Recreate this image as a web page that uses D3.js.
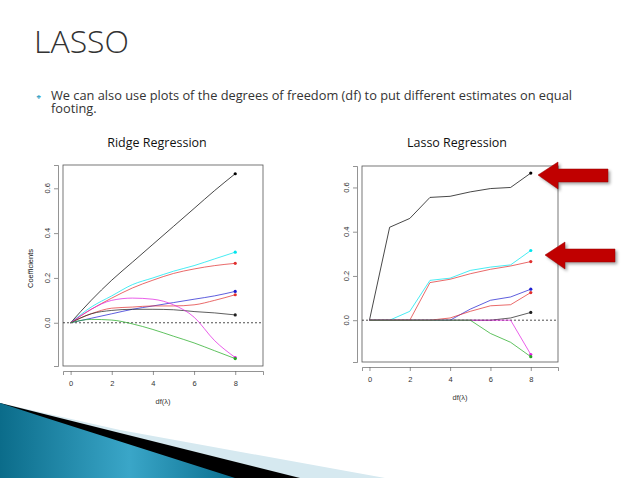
<!DOCTYPE html>
<html><head><meta charset="utf-8">
<script src="https://cdn.jsdelivr.net/npm/d3@7"></script>
<style>body{margin:0;background:#fff}svg{display:block}</style>
</head><body>
<div id="chart"></div>
<script>
// df grid shared by both panels
var dfSteps = [0,1,2,3,4,5,6,7,8];
var seriesColors = ["#000000","#00e5ee","#e0302f","#1f1fd0","#e0302f","#202020","#e020e0","#22aa22"];

// ridge coefficient paths
var ridgeBlack   = [0,0.10,0.19,0.27,0.35,0.43,0.51,0.59,0.665];
var ridgeCyan    = [0,0.07,0.12,0.17,0.20,0.23,0.255,0.285,0.315];
var ridgeRed     = [0,0.06,0.11,0.155,0.19,0.22,0.24,0.255,0.265];
var ridgeBlue    = [0,0.02,0.04,0.06,0.075,0.09,0.105,0.12,0.14];
var ridgeRed2    = [0,0.04,0.065,0.07,0.075,0.075,0.08,0.10,0.125];
var ridgeBlack2  = [0,0.04,0.055,0.06,0.06,0.058,0.05,0.044,0.035];
var ridgeMagenta = [0,0.06,0.10,0.11,0.105,0.08,0.025,-0.08,-0.155];
var ridgeGreen   = [0,0.015,0.012,-0.005,-0.03,-0.06,-0.09,-0.125,-0.16];

// lasso coefficient paths
var lassoBlack   = [0,0.42,0.46,0.555,0.56,0.58,0.595,0.60,0.665];
var lassoCyan    = [0,0,0.04,0.18,0.19,0.225,0.24,0.25,0.315];
var lassoRed     = [0,0,0,0.17,0.185,0.21,0.23,0.245,0.265];
var lassoBlue    = [0,0,0,0,0,0.05,0.09,0.105,0.14];
var lassoRed2    = [0,0,0,0,0.01,0.04,0.065,0.07,0.125];
var lassoBlack2  = [0,0,0,0,0,0,0,0.01,0.035];
var lassoMagenta = [0,0,0,0,0,0,0,0,-0.155];
var lassoGreen   = [0,0,0,0,0,0,-0.06,-0.10,-0.165];

var xTicks = [0,2,4,6,8], yTicks = [0,0.2,0.4,0.6];

var svg = d3.select("#chart").append("svg").attr("width",638).attr("height",478);

// slide decoration, bottom-left swoosh
var defs = svg.append("defs");
var g1 = defs.append("linearGradient").attr("id","teal").attr("x1","0").attr("x2","1").attr("y1","0").attr("y2","0");
g1.append("stop").attr("offset","0%").attr("stop-color","#0b6c8a");
g1.append("stop").attr("offset","55%").attr("stop-color","#3aa6c8");
g1.append("stop").attr("offset","100%").attr("stop-color","#0a6f8f");
svg.append("path").attr("d","M0,403 L120,430 L385,478 L0,478Z").attr("fill","#d6e9f0");
svg.append("path").attr("d","M0,403 L60,418 L300,478 L0,478Z").attr("fill","#000");
svg.append("path").attr("d","M0,403 L40,416 L235,478 L0,478Z").attr("fill","url(#teal)");

// header text
svg.append("text").attr("x",34).attr("y",53).text("LASSO")
  .style("font-family","'Open Sans',sans-serif").style("font-weight",300).style("font-size","32px").style("fill","#333");
svg.append("text").attr("x",36).attr("y",99).text("\u2756")
  .style("font-size","6px").style("fill","#3aa6c8");
var bullet = svg.append("text").style("font-family","'Open Sans',sans-serif").style("font-size","12.8px").style("fill","#333");
bullet.append("tspan").attr("x",51).attr("y",100).text("We can also use plots of the degrees of freedom (df) to put different estimates on equal");
bullet.append("tspan").attr("x",51).attr("y",113).text("footing.");
svg.append("text").attr("x",157).attr("y",147).attr("text-anchor","middle").text("Ridge Regression")
  .style("font-family","'Open Sans',sans-serif").style("font-size","12.5px").style("fill","#111");
svg.append("text").attr("x",457).attr("y",147).attr("text-anchor","middle").text("Lasso Regression")
  .style("font-family","'Open Sans',sans-serif").style("font-size","12.5px").style("fill","#111");

function panel(box, xDom, yDom, series, curved, yLabel){
  var x = d3.scaleLinear().domain(xDom).range([box.x0, box.x1]);
  var y = d3.scaleLinear().domain(yDom).range([box.y1, box.y0]);
  var g = svg.append("g").style("font-family","'Liberation Sans',Arial,sans-serif").style("font-size","7.5px");
  g.append("rect").attr("x",box.x0).attr("y",box.y0).attr("width",box.x1-box.x0).attr("height",box.y1-box.y0)
    .attr("fill","none").attr("stroke","#555").attr("stroke-width",0.8);
  g.append("line").attr("x1",box.x0).attr("x2",box.x1).attr("y1",y(0)).attr("y2",y(0))
    .attr("stroke","#222").attr("stroke-width",0.8).attr("stroke-dasharray","2,2");
  var ax = g.append("g").attr("transform","translate(0,"+(box.y1+5)+")")
    .call(d3.axisBottom(x).tickValues(xTicks).tickSize(4).tickPadding(6));
  var ay = g.append("g").attr("transform","translate("+(box.x0-5)+",0)")
    .call(d3.axisLeft(y).tickValues(yTicks).tickFormat("").tickSize(4));
  [ax,ay].forEach(function(a){
    a.selectAll("path,line").attr("stroke","#666").attr("stroke-width",0.7);
    a.selectAll("text").attr("fill","#333").style("font-size","7.5px");
  });
  // rotated y tick labels, R style
  yTicks.forEach(function(t){
    g.append("text").attr("transform","translate("+(box.x0-13)+","+y(t)+") rotate(-90)")
      .attr("text-anchor","middle").attr("fill","#333").text(d3.format(".1f")(t));
  });
  g.append("text").attr("x",(box.x0+box.x1)/2).attr("y",box.y1+38).attr("text-anchor","middle").text("df(\u03bb)").attr("fill","#333");
  if (yLabel) g.append("text").attr("transform","translate("+(box.x0-30)+","+((box.y0+box.y1)/2+3)+") rotate(-90)")
    .attr("text-anchor","middle").text(yLabel).attr("fill","#111");
  var line = d3.line().x(function(d,i){return x(dfSteps[i]);}).y(function(d){return y(d);})
    .curve(curved ? d3.curveMonotoneX : d3.curveLinear);
  series.forEach(function(s,k){
    g.append("path").attr("d",line(s)).attr("fill","none").attr("stroke",seriesColors[k])
      .attr("stroke-width",0.9).attr("opacity",0.8);
    g.append("circle").attr("cx",x(8)).attr("cy",y(s[8])).attr("r",1.6).attr("fill",seriesColors[k]);
  });
}

panel({x0:63,x1:263,y0:165,y1:366},[-0.37,9.35],[-0.193,0.704],
  [ridgeBlack,ridgeCyan,ridgeRed,ridgeBlue,ridgeRed2,ridgeBlack2,ridgeMagenta,ridgeGreen], true, "Coefficients");
panel({x0:362,x1:558,y0:166,y1:362},[-0.37,9.35],[-0.189,0.697],
  [lassoBlack,lassoCyan,lassoRed,lassoBlue,lassoRed2,lassoBlack2,lassoMagenta,lassoGreen], false, null);

// red callout arrows
function arrow(tipX, tipY, len){
  svg.append("path")
    .attr("d","M"+tipX+","+tipY+" l20,-13 l0,7 l"+(len-20)+",0 l0,13 l"+(-(len-20))+",0 l0,7Z")
    .attr("fill","#c00000").attr("stroke","#900").attr("stroke-width",0.5)
    .style("filter","drop-shadow(2px 2px 1.5px rgba(0,0,0,0.35))");
}
arrow(538,175,70);
arrow(545,255,70);
</script>
</body></html>
